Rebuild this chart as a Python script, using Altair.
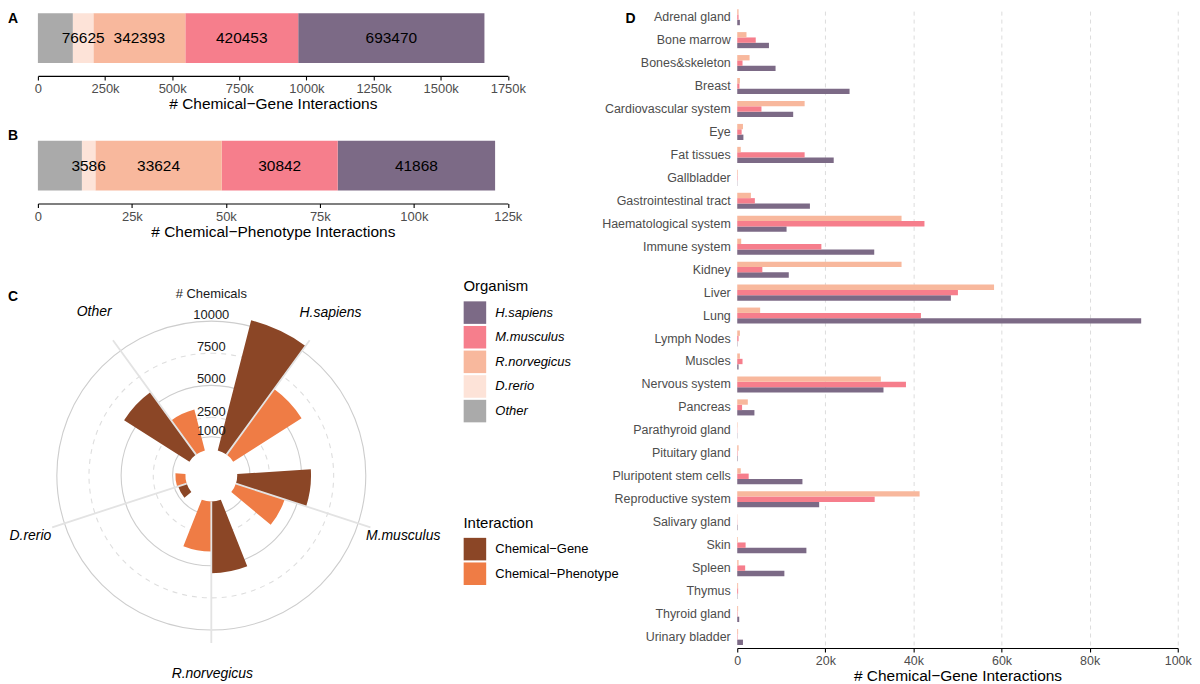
import json
import math
import altair as alt
import pandas as pd

# ---------------- data ----------------
organisms = ["H.sapiens", "M.musculus", "R.norvegicus", "D.rerio", "Other"]
organism_colors = ["#7c6a86", "#f67e8c", "#f8b89d", "#fde3d8", "#aaaaaa"]
stack_order = ["Other", "D.rerio", "R.norvegicus", "M.musculus", "H.sapiens"]

gene_interactions = [693470, 420453, 342393, 76625, 130000]
phenotype_interactions = [41868, 30842, 33624, 3586, 11700]

interactions = ["Chemical−Gene", "Chemical−Phenotype"]
interaction_colors = ["#8b4626", "#ef7c45"]
chemicals_gene = [10450, 5740, 5580, 700, 6020]
chemicals_phenotype = [6300, 3980, 3890, 780, 3290]
radial_ticks = [1000, 2500, 5000, 7500, 10000]
radial_solid = [1000, 5000, 10000]
radial_dashed = [2500, 7500]

tissues = ["Adrenal gland", "Bone marrow", "Bones&skeleton", "Breast",
           "Cardiovascular system", "Eye", "Fat tissues", "Gallbladder",
           "Gastrointestinal tract", "Haematological system", "Immune system",
           "Kidney", "Liver", "Lung", "Lymph Nodes", "Muscles", "Nervous system",
           "Pancreas", "Parathyroid gland", "Pituitary gland",
           "Pluripotent stem cells", "Reproductive system", "Salivary gland",
           "Skin", "Spleen", "Thymus", "Thyroid gland", "Urinary bladder"]
tissue_hs = [600, 7200, 8700, 25500, 12700, 1400, 21900, 50, 16500, 11200,
             31100, 11700, 48500, 91700, 70, 300, 33200, 3900, 50, 100,
             14800, 18600, 100, 15700, 10700, 70, 450, 1300]
tissue_mm = [300, 4200, 1200, 500, 5500, 1000, 15300, 100, 4000, 42500,
             19100, 5700, 50100, 41700, 300, 1200, 38300, 1100, 50, 100,
             2600, 31200, 50, 1900, 1800, 200, 100, 100]
tissue_rn = [300, 2100, 2800, 600, 15300, 1300, 800, 150, 3100, 37300,
             900, 37300, 58300, 5200, 600, 600, 32600, 2400, 100, 300,
             800, 41400, 50, 150, 300, 200, 200, 200]

panel_letters = ["A", "B", "C", "D"]

# ---------------- styles ----------------
FONT = "Liberation Sans"
LABEL_GREY = "#4d4d4d"


def letter_mark(letter, px, py):
    """Bold panel letter, placed in the panel's own pixel frame."""
    return alt.Chart(pd.DataFrame({"letter": [letter]})).mark_text(
        align="left", baseline="alphabetic", fontSize=14, fontWeight="bold",
        color="#000000").encode(text="letter:N", x=alt.value(px), y=alt.value(py))


def count_axis(title, values, offset, grid=False, label_size=13):
    kw = dict(title=title, values=values,
              labelExpr="datum.value === 0 ? '0' : (datum.value / 1000) + 'k'",
              offset=offset, domainColor="#000000", domainWidth=1.1,
              tickColor="#000000", tickWidth=1.1, tickSize=4,
              labelColor=LABEL_GREY, labelFontSize=label_size, labelPadding=3,
              labelFlush=False, labelOverlap=False,
              titleFontSize=15.5, titleFontWeight="normal", titleColor="#000000",
              titlePadding=1, grid=grid)
    if grid:
        kw.update(gridDash=[4, 4], gridColor="#dcdcdc", gridWidth=1,
                  gridOpacity={"condition": {"test": "datum.value === 0", "value": 0},
                               "value": 1})
    return alt.Axis(**kw)


org_scale = alt.Scale(domain=organisms, range=organism_colors)


def stacked_panel(values, domain_max, tick_step, axis_title, letter, letter_y,
                  height, pad_outer, legend):
    df = pd.DataFrame({"organism": organisms, "value": values})
    base = (alt.Chart(df)
            .transform_calculate(rank=f"indexof({json.dumps(stack_order)}, datum.organism)",
                                 row="'bar'")
            .transform_stack(stack="value", groupby=[], as_=["x0", "x1"],
                             sort=[alt.SortField("rank", order="ascending")])
            .transform_calculate(mid="(datum.x0 + datum.x1) / 2"))
    xs = alt.Scale(domain=[0, domain_max], nice=False, zero=True)
    ys = alt.Scale(paddingInner=0, paddingOuter=pad_outer, align=1)
    ticks = list(range(0, domain_max + 1, tick_step))
    bars = base.mark_bar().encode(
        x=alt.X("x0:Q", scale=xs, axis=count_axis(axis_title, ticks, 13)),
        x2="x1:Q",
        y=alt.Y("row:N", scale=ys, axis=None),
        color=alt.Color("organism:N", scale=org_scale, legend=legend),
    )
    labels = base.transform_filter("datum.organism != 'Other'").mark_text(
        fontSize=15.5, color="#000000").encode(
        x=alt.X("mid:Q", scale=xs),
        y=alt.Y("row:N", scale=ys),
        text=alt.Text("value:Q", format="d"),
    )
    return alt.layer(bars, labels, letter_mark(letter, -30, letter_y)).properties(
        width=471.5, height=height)


legend_org = alt.Legend(orient="none", legendX=427, legendY=271, title="Organism",
                        titleFontSize=15, titleFontWeight="normal", titleColor="#000000",
                        titlePadding=7, labelFontSize=13, labelFontStyle="italic",
                        labelColor="#000000", labelOffset=9, symbolType="square",
                        symbolSize=511, symbolStrokeWidth=0, rowPadding=1.7, padding=0)

panel_a = stacked_panel(gene_interactions, 1750000, 250000,
                        "# Chemical−Gene Interactions", panel_letters[0], 14,
                        54, 0.04, legend_org)
panel_b = stacked_panel(phenotype_interactions, 125000, 25000,
                        "# Chemical−Phenotype Interactions", panel_letters[1], -1,
                        50, 0, None)

# ---------------- panel C (polar) ----------------
theta_scale = alt.Scale(domain=[0, 5], range=[0, 2 * math.pi])
r_scale = alt.Scale(type="linear", domain=[0, 10000], range=[26, 155])
org_json = json.dumps(organisms)
int_json = json.dumps(interactions, ensure_ascii=False)

df_c = pd.DataFrame({
    "organism": organisms * 2,
    "interaction": [interactions[0]] * 5 + [interactions[1]] * 5,
    "chemicals": chemicals_gene + chemicals_phenotype,
})

grid_df = pd.DataFrame({"grid": radial_ticks})


def rings(values, color, dash=None):
    kw = dict(radius2=0, fillOpacity=0, stroke=color, strokeWidth=1.1)
    if dash:
        kw["strokeDash"] = dash
    return alt.Chart(grid_df).transform_filter(
        alt.FieldOneOfPredicate(field="grid", oneOf=values)).transform_calculate(
        a0="0", a1="5").mark_arc(**kw).encode(
        theta=alt.Theta("a0:Q", scale=theta_scale, stack=None),
        theta2="a1:Q",
        radius=alt.Radius("grid:Q", scale=r_scale),
    )


circles_solid = rings(radial_solid, "#cdcdcd")
circles_dashed = rings(radial_dashed, "#dedede", [5, 5])

bars_c = alt.Chart(df_c).transform_calculate(
    slot=f"indexof({org_json}, datum.organism)",
    k=f"indexof({int_json}, datum.interaction)",
).transform_calculate(
    t0="datum.slot + 0.2 + 0.3 * datum.k",
    t1="datum.slot + 0.5 + 0.3 * datum.k",
    base="0",
).mark_arc().encode(
    theta=alt.Theta("t0:Q", scale=theta_scale, stack=None),
    theta2="t1:Q",
    radius=alt.Radius("chemicals:Q", scale=r_scale),
    radius2="base:Q",
    color=alt.Color("interaction:N",
                    scale=alt.Scale(domain=interactions, range=interaction_colors),
                    legend=alt.Legend(orient="none", legendX=427, legendY=248.3,
                                      title="Interaction", titleFontSize=15,
                                      titleFontWeight="normal", titleColor="#000000",
                                      titlePadding=7, labelFontSize=13,
                                      labelColor="#000000", labelOffset=9,
                                      symbolType="square", symbolSize=511,
                                      symbolStrokeWidth=0, rowPadding=1.7, padding=0)),
)

org_df = pd.DataFrame({"organism": organisms})
spokes = alt.Chart(org_df).transform_calculate(
    tc=f"indexof({org_json}, datum.organism) + 0.5", outer="11000", base="0"
).mark_arc(fillOpacity=0, stroke="#e3e3e3", strokeWidth=1.8).encode(
    theta=alt.Theta("tc:Q", scale=theta_scale, stack=None),
    theta2="tc:Q",
    radius=alt.Radius("outer:Q", scale=r_scale),
    radius2="base:Q",
)

tick_text = alt.Chart(grid_df).transform_calculate(zero="0").mark_text(
    fontSize=13, color="#1a1a1a", baseline="alphabetic", dy=-2
).encode(
    theta=alt.Theta("zero:Q", scale=theta_scale, stack=None),
    radius=alt.Radius("grid:Q", scale=r_scale),
    text=alt.Text("grid:Q", format="d"),
)

radial_title = alt.Chart(pd.DataFrame({"t": ["# Chemicals"]})).transform_calculate(
    zero="0", ring="12100").mark_text(fontSize=13, color="#1a1a1a",
                                      baseline="middle").encode(
    theta=alt.Theta("zero:Q", scale=theta_scale, stack=None),
    radius=alt.Radius("ring:Q", scale=r_scale),
    text="t:N",
)

label_nudges = {
    "H.sapiens": ("center", 8, -10),
    "M.musculus": ("center", 12, 2),
    "R.norvegicus": ("center", 1, 9),
    "D.rerio": ("left", -22, 2),
    "Other": ("center", -6, -11),
}
org_labels = []
for name in organisms:
    align, dx, dy = label_nudges[name]
    org_labels.append(
        alt.Chart(org_df).transform_filter(alt.datum.organism == name).transform_calculate(
            tc=f"indexof({org_json}, datum.organism) + 0.5", ring="12700"
        ).mark_text(fontSize=14, fontStyle="italic", color="#000000", align=align,
                    baseline="middle", dx=dx, dy=dy).encode(
            theta=alt.Theta("tc:Q", scale=theta_scale, stack=None),
            radius=alt.Radius("ring:Q", scale=r_scale),
            text="organism:N",
        )
    )

panel_c = alt.layer(circles_solid, circles_dashed, bars_c, spokes, tick_text,
                    radial_title, *org_labels,
                    letter_mark(panel_letters[2], -30, 32.7)).properties(
    width=348, height=416)

# ---------------- panel D ----------------
d_order = ["R.norvegicus", "M.musculus", "H.sapiens"]
df_d = pd.DataFrame({
    "tissue": tissues * 3,
    "organism": ["H.sapiens"] * len(tissues) + ["M.musculus"] * len(tissues)
    + ["R.norvegicus"] * len(tissues),
    "count": tissue_hs + tissue_mm + tissue_rn,
})

bars_d = alt.Chart(df_d).mark_bar().encode(
    y=alt.Y("tissue:N", sort=tissues,
            scale=alt.Scale(paddingInner=0.3, paddingOuter=0),
            axis=alt.Axis(title=None, domain=False, ticks=False, tickSize=0,
                          labelPadding=7, labelFontSize=12.5, labelColor=LABEL_GREY,
                          labelLimit=300)),
    yOffset=alt.YOffset("organism:N",
                        scale=alt.Scale(domain=d_order, paddingInner=0, paddingOuter=0)),
    x=alt.X("count:Q", scale=alt.Scale(domain=[0, 100000], nice=False),
            axis=count_axis("# Chemical−Gene Interactions",
                            list(range(0, 100001, 20000)), 3, grid=True,
                            label_size=12.5)),
    color=alt.Color("organism:N",
                    scale=alt.Scale(domain=organisms[:3], range=organism_colors[:3]),
                    legend=None),
)
panel_d = alt.layer(bars_d, letter_mark(panel_letters[3], -112, 14)).properties(
    width=442, height=638)

# ---------------- layout ----------------
left = alt.vconcat(panel_a, panel_b, panel_c, spacing=78, bounds="flush").resolve_scale(
    color="independent")
chart = alt.hconcat(left, panel_d, spacing=-18.3).resolve_scale(
    color="independent").properties(padding=0).configure(font=FONT).configure_view(
    strokeWidth=0)

chart.save("out.html", embed_options={"renderer": "svg", "actions": False})
